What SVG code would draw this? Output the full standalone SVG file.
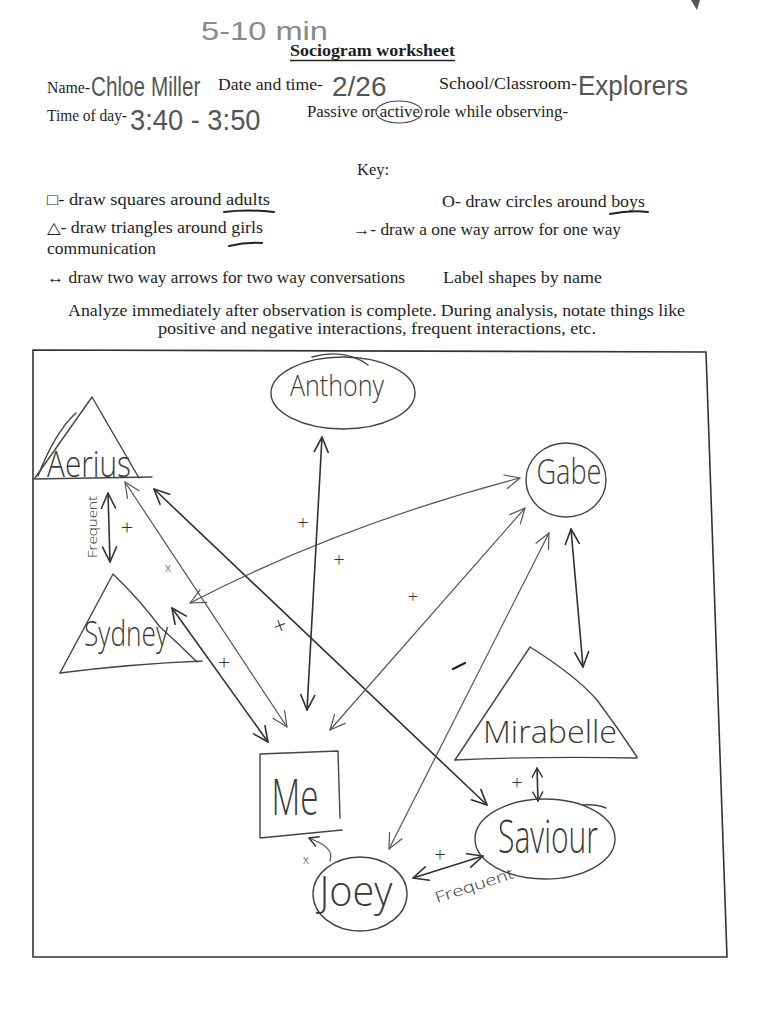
<svg xmlns="http://www.w3.org/2000/svg" width="768" height="1024" viewBox="0 0 768 1024">
<defs>
<style>
.p{font-family:"Liberation Serif","Times New Roman",serif;font-size:16px;fill:#1e1e1e}
.hw{font-family:"Liberation Sans",Arial,sans-serif;fill:#555}
.lb{font-family:"Open Sans","DejaVu Sans",sans-serif;font-weight:300;fill:#3a3a3a}
.mk{font-family:"Open Sans","DejaVu Sans",sans-serif;font-weight:300;fill:#333}
.shape{fill:none;stroke:#444;stroke-width:1.4;stroke-linecap:round;stroke-linejoin:round}
.c{fill:none;stroke:#303030;stroke-width:1.6;stroke-linecap:round}
.ct{fill:none;stroke:#555;stroke-width:1.2;stroke-linecap:round}
.ul{fill:none;stroke:#222;stroke-width:2;stroke-linecap:round}
</style>
<marker id="a" viewBox="-18 -10 20 20" refX="0" refY="0" markerWidth="20" markerHeight="20" markerUnits="userSpaceOnUse" orient="auto-start-reverse"><path d="M-15,-7 L0,0 L-15,7" fill="none" stroke="#303030" stroke-width="1.6" stroke-linecap="round" stroke-linejoin="round"/></marker>
<marker id="t" viewBox="-18 -10 20 20" refX="0" refY="0" markerWidth="20" markerHeight="20" markerUnits="userSpaceOnUse" orient="auto-start-reverse"><path d="M-15,-7 L0,0 L-15,7" fill="none" stroke="#555" stroke-width="1.2" stroke-linecap="round" stroke-linejoin="round"/></marker>
<marker id="s" viewBox="-12 -8 14 16" refX="0" refY="0" markerWidth="14" markerHeight="16" markerUnits="userSpaceOnUse" orient="auto-start-reverse"><path d="M-9,-5 L0,0 L-9,5" fill="none" stroke="#303030" stroke-width="1.4" stroke-linecap="round" stroke-linejoin="round"/></marker>
</defs>
<rect width="768" height="1024" fill="#ffffff"/>
<polygon points="691,0 700,0 697,10" fill="#555"/>

<g id="header">
<text class="hw" x="201" y="40" font-size="25" style="fill:#8a8a8a" textLength="127" lengthAdjust="spacingAndGlyphs">5-10 min</text>
<text class="p" x="290" y="56" font-weight="bold" textLength="165" lengthAdjust="spacingAndGlyphs">Sociogram worksheet</text>
<line x1="290" y1="60.5" x2="455" y2="60.5" stroke="#222" stroke-width="1.3"/>
<text class="p" x="47" y="93" textLength="43" lengthAdjust="spacingAndGlyphs">Name-</text>
<text class="hw" transform="translate(91,96) scale(0.74,1)" font-size="28">Chloe Miller</text>
<text class="p" x="218" y="90" textLength="105" lengthAdjust="spacingAndGlyphs">Date and time-</text>
<text class="hw" transform="translate(332,96)" font-size="28">2/26</text>
<text class="p" x="439" y="89" textLength="138" lengthAdjust="spacingAndGlyphs">School/Classroom-</text>
<text class="hw" transform="translate(578,95) scale(0.93,1)" font-size="28">Explorers</text>
<text class="p" x="47" y="121" textLength="80" lengthAdjust="spacingAndGlyphs">Time of day-</text>
<text class="hw" transform="translate(130,130) scale(0.91,1)" font-size="30">3:40 - 3:50</text>
<text class="p" x="307" y="117" textLength="261" lengthAdjust="spacingAndGlyphs">Passive or active role while observing-</text>
<ellipse cx="399" cy="112" rx="23" ry="11" fill="none" stroke="#444" stroke-width="1.2"/>
<text class="p" x="357" y="175" textLength="32" lengthAdjust="spacingAndGlyphs">Key:</text>
<text class="p" x="47" y="205" textLength="223" lengthAdjust="spacingAndGlyphs">□- draw squares around adults</text>
<path class="ul" d="M224,212 Q248,209 274,212"/>
<text class="p" x="442" y="207" textLength="203" lengthAdjust="spacingAndGlyphs">O- draw circles around boys</text>
<path class="ul" d="M610,214 Q630,210 648,212"/>
<text class="p" x="47" y="233" textLength="216" lengthAdjust="spacingAndGlyphs">△- draw triangles around girls</text>
<path class="ul" d="M229,246 Q246,242 262,243"/>
<text class="p" x="353" y="235" textLength="268" lengthAdjust="spacingAndGlyphs">→- draw a one way arrow for one way</text>
<text class="p" x="47" y="254" textLength="109" lengthAdjust="spacingAndGlyphs">communication</text>
<text class="p" x="47" y="283" textLength="358" lengthAdjust="spacingAndGlyphs">↔ draw two way arrows for two way conversations</text>
<text class="p" x="443" y="283" textLength="159" lengthAdjust="spacingAndGlyphs">Label shapes by name</text>
<text class="p" x="68" y="316" textLength="617" lengthAdjust="spacingAndGlyphs">Analyze immediately after observation is complete. During analysis, notate things like</text>
<text class="p" x="158" y="334" textLength="438" lengthAdjust="spacingAndGlyphs">positive and negative interactions, frequent interactions, etc.</text>
</g>

<path d="M33,350 L706,352 L727,957 L33,957 Z" fill="none" stroke="#333" stroke-width="1.6"/>

<g id="connectors">
<line class="c" x1="322" y1="437" x2="307" y2="710" marker-start="url(#a)" marker-end="url(#a)"/>
<line class="c" x1="108" y1="493" x2="110" y2="562" marker-start="url(#a)" marker-end="url(#a)"/>
<line class="ct" x1="125" y1="482" x2="287" y2="727" marker-start="url(#t)" marker-end="url(#t)"/>
<line class="c" x1="154" y1="489" x2="487" y2="805" marker-start="url(#a)" marker-end="url(#a)"/>
<line class="c" x1="172" y1="608" x2="268" y2="742" marker-start="url(#a)" marker-end="url(#a)"/>
<path class="ct" d="M190,603 Q340,525 520,478" marker-start="url(#t)" marker-end="url(#t)"/>
<line class="ct" x1="330" y1="730" x2="525" y2="508" marker-start="url(#t)" marker-end="url(#t)"/>
<line class="ct" x1="389" y1="849" x2="549" y2="533" marker-start="url(#t)" marker-end="url(#t)"/>
<line class="c" x1="571" y1="529" x2="583" y2="667" marker-start="url(#a)" marker-end="url(#a)"/>
<line class="c" x1="537" y1="768" x2="538" y2="801" marker-start="url(#s)" marker-end="url(#s)"/>
<line class="c" x1="413" y1="878" x2="483" y2="856" marker-start="url(#a)" marker-end="url(#a)"/>
<path class="ct" d="M330,861 C334,850 324,844 309,838" marker-end="url(#s)"/>
<text class="mk" x="127" y="535" font-size="22" text-anchor="middle">+</text>
<text class="mk" transform="translate(97,527) rotate(-90)" font-size="13" text-anchor="middle" textLength="62" lengthAdjust="spacingAndGlyphs">Frequent</text>
<text class="mk" x="168" y="572" font-size="12" text-anchor="middle">x</text>
<text class="mk" x="303" y="530" font-size="20" text-anchor="middle">+</text>
<text class="mk" x="339" y="567" font-size="20" text-anchor="middle">+</text>
<text class="mk" x="280" y="634" font-size="24" font-weight="bold" text-anchor="middle" transform="rotate(-20 280 626)">+</text>
<text class="mk" x="224" y="670" font-size="22" text-anchor="middle">+</text>
<text class="mk" x="413" y="603" font-size="18" text-anchor="middle">+</text>
<line x1="453" y1="669" x2="465" y2="663" stroke="#222" stroke-width="2.2" stroke-linecap="round"/>
<text class="mk" x="517" y="790" font-size="20" text-anchor="middle">+</text>
<text class="mk" x="440" y="862" font-size="20" text-anchor="middle">+</text>
<text class="mk" x="306" y="864" font-size="12" text-anchor="middle">x</text>
<text class="mk" transform="translate(437,903) rotate(-18)" font-size="15" textLength="82" lengthAdjust="spacingAndGlyphs">Frequent</text>
</g>

<g id="anthony">
<ellipse class="shape" cx="343" cy="393" rx="72" ry="36"/>
<path class="shape" d="M312,357 Q345,348 368,365"/>
<text class="lb" x="337" y="396" font-size="30" text-anchor="middle" textLength="94" lengthAdjust="spacingAndGlyphs">Anthony</text>
</g>
<g id="aerius">
<path class="shape" d="M35,478 L92,397 L139,478"/>
<path class="shape" d="M33,479 L152,477"/>
<path class="shape" d="M38,476 Q55,432 76,413"/>
<text class="lb" x="89" y="477" font-size="36" text-anchor="middle" textLength="84" lengthAdjust="spacingAndGlyphs">Aerius</text>
</g>
<g id="sydney">
<path class="shape" d="M60,673 L113,574 Q140,600 160,627 Q180,645 197,662"/>
<path class="shape" d="M60,673 Q130,664 202,661"/>
<text class="lb" x="126" y="646" font-size="34" text-anchor="middle" textLength="84" lengthAdjust="spacingAndGlyphs">Sydney</text>
</g>
<g id="gabe">
<ellipse class="shape" cx="566" cy="480" rx="40" ry="37"/>
<text class="lb" x="569" y="484" font-size="34" text-anchor="middle" textLength="65" lengthAdjust="spacingAndGlyphs">Gabe</text>
</g>
<g id="mirabelle">
<path class="shape" d="M455,760 L530,647 Q575,675 597,700 Q618,728 637,757"/>
<path class="shape" d="M455,760 Q545,756 637,758"/>
<text class="lb" x="550" y="743" font-size="32" text-anchor="middle" textLength="134" lengthAdjust="spacingAndGlyphs">Mirabelle</text>
</g>
<g id="me">
<path class="shape" d="M342,830 L260,838 L260,754 L338,751 L340,818"/>
<text class="lb" x="295" y="815" font-size="50" text-anchor="middle" textLength="47" lengthAdjust="spacingAndGlyphs">Me</text>
</g>
<g id="saviour">
<ellipse class="shape" cx="545" cy="839" rx="70" ry="40"/>
<path class="shape" d="M583,805 Q596,804 606,808"/>
<text class="lb" x="548" y="853" font-size="46" text-anchor="middle" textLength="100" lengthAdjust="spacingAndGlyphs">Saviour</text>
</g>
<g id="joey">
<ellipse class="shape" cx="360" cy="894" rx="47" ry="37"/>
<text class="lb" x="356" y="906" font-size="42" text-anchor="middle" textLength="73" lengthAdjust="spacingAndGlyphs">Joey</text>
</g>
</svg>
